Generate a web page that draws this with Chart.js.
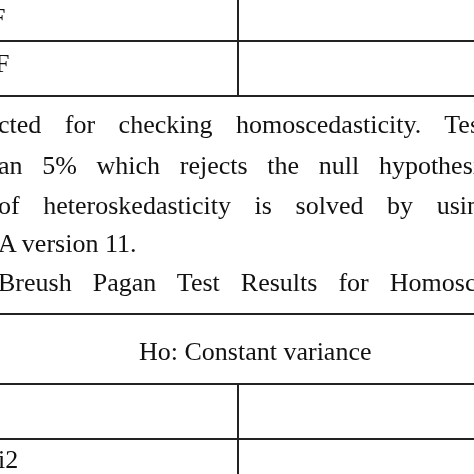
<!DOCTYPE html>
<html><head><meta charset="utf-8">
<script src="https://cdn.jsdelivr.net/npm/chart.js"></script>
<style>
html,body{margin:0;padding:0;background:#fff;overflow:hidden}
#wrap{position:relative;width:474px;height:474px;overflow:hidden;font-family:"Liberation Serif","DejaVu Serif",serif;font-size:26px;color:#111}
canvas{position:absolute;left:0;top:0}
.t{position:absolute;white-space:nowrap;line-height:1}
.j{position:absolute;width:482px;line-height:1;text-align:justify;text-align-last:justify;white-space:normal}
.h{position:absolute;left:0;width:474px;height:1.5px;background:#222}
.v{position:absolute;width:1.5px;background:#222}
</style></head><body>
<div id="wrap">
<canvas id="c" width="474" height="474"></canvas>
<div class="h" style="top:40px"></div>
<div class="h" style="top:95px"></div>
<div class="v" style="left:237px;top:0;height:95px"></div>
<div class="t" style="left:-9px;top:5px">F</div>
<div class="t" style="left:-5px;top:51px">F</div>
<div class="j" style="left:-2px;top:112px">cted for checking homoscedasticity. Tes</div>
<div class="j" style="left:-2px;top:153px">an 5% which rejects the null hypothesi</div>
<div class="j" style="left:-2px;top:193px">of heteroskedasticity is solved by usin</div>
<div class="t" style="left:-2px;top:231px">A version 11.</div>
<div class="j" style="left:-2px;top:270px;width:490px">Breush Pagan Test Results for Homosce</div>
<div class="h" style="top:313px"></div>
<div class="t" style="left:139px;top:339px">Ho: Constant variance</div>
<div class="h" style="top:383px"></div>
<div class="v" style="left:237px;top:383px;height:91px"></div>
<div class="h" style="top:438px"></div>
<div class="t" style="left:-2px;top:447px">i2</div>
</div>
<script>
const categories=[];const values=[];
new Chart(document.getElementById('c'),{type:'bar',data:{labels:categories,datasets:[{data:values}]},
options:{responsive:false,animation:false,plugins:{legend:{display:false},tooltip:{enabled:false}},scales:{x:{display:false},y:{display:false}}}});
</script>
</body></html>
